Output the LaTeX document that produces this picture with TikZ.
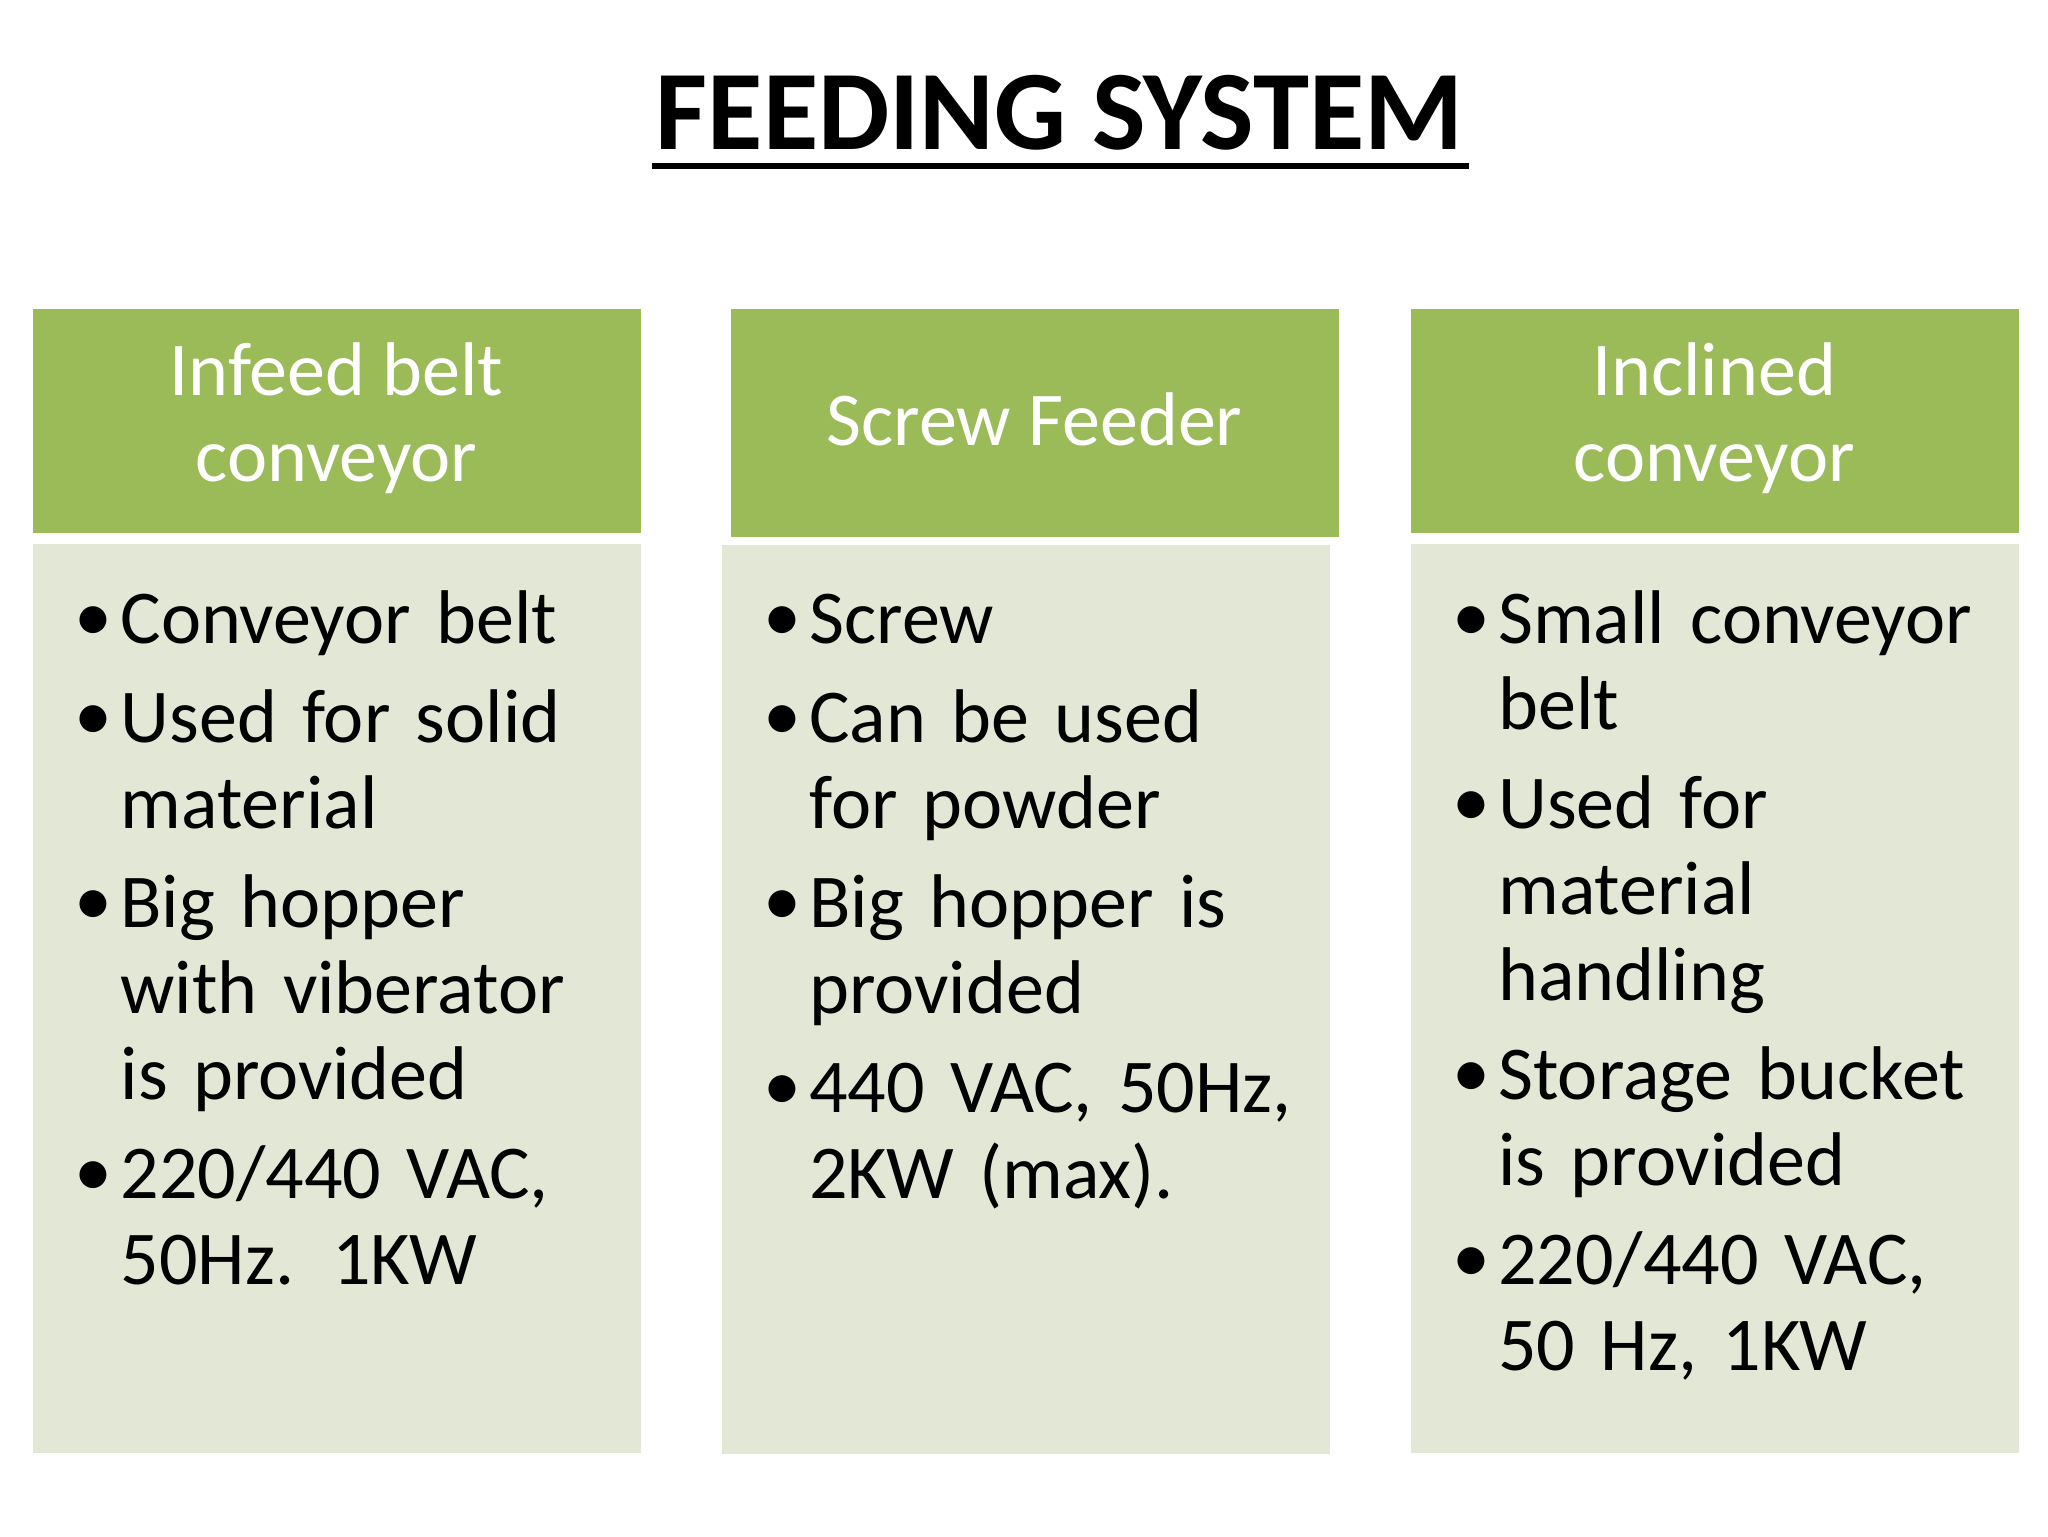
\documentclass[tikz,border=0pt]{standalone}
\usepackage{fontspec}
\setmainfont{Carlito}
\definecolor{hdr}{HTML}{9BBB59}
\definecolor{bdy}{HTML}{E3E8D6}
\newcommand{\bi}[1]{\par\hangindent=13pt\hangafter=1\noindent\makebox[13pt][l]{\raisebox{0.5pt}{•}}#1}
\begin{document}
\begin{tikzpicture}[x=0.373pt,y=-0.373pt,
  hbox/.style={fill=hdr,draw=none},
  bbox/.style={fill=bdy,draw=none},
  htext/.style={text=white,font=\fontsize{21.5}{24.3}\selectfont,align=center},
  btext/.style={anchor=north west,inner sep=0pt,text width=#1,font=\fontsize{21.5}{24.3}\selectfont}]
\useasboundingbox (0,0) rectangle (1552,1164);
\fill[white] (0,0) rectangle (1552,1164);
\node[font=\fontsize{32}{38}\selectfont\bfseries,inner sep=0pt,anchor=base] (title) at (803,113) {FEEDING SYSTEM};
\draw[line width=1.6pt] (494,126) -- (1113,126);
\fill[hbox] (25,234) rectangle (486,404); \node[htext] (h1) at (255,317) {Infeed belt\\conveyor};
\fill[hbox] (554,234) rectangle (1015,407); \node[htext] (h2) at (784,318) {Screw Feeder};
\fill[hbox] (1069,234) rectangle (1530,404); \node[htext] (h3) at (1299,317) {Inclined\\conveyor};
\fill[bbox] (25,412) rectangle (486,1101);
\fill[bbox] (547,413) rectangle (1008,1102);
\fill[bbox] (1069,412) rectangle (1530,1101);
\node[btext=170pt] (b1) at (56,412) {\raggedright\parskip=3.7pt
\bi{Conveyor belt}
\bi{Used for solid\newline material}
\bi{Big hopper\newline with viberator\newline is provided}
\bi{220/440 VAC,\newline 50Hz. 1KW}\par};
\node[btext=170pt] (b2) at (578,412) {\raggedright\parskip=3.7pt
\bi{Screw}
\bi{Can be used\newline for powder}
\bi{Big hopper is\newline provided}
\bi{440 VAC, 50Hz,\newline 2KW (max).}\par};
\node[btext=170pt] (b3) at (1100,412) {\raggedright\parskip=3.7pt
\bi{Small conveyor\newline belt}
\bi{Used for\newline material\newline handling}
\bi{Storage bucket\newline is provided}
\bi{220/440 VAC,\newline 50 Hz, 1KW}\par};
\end{tikzpicture}
\end{document}
